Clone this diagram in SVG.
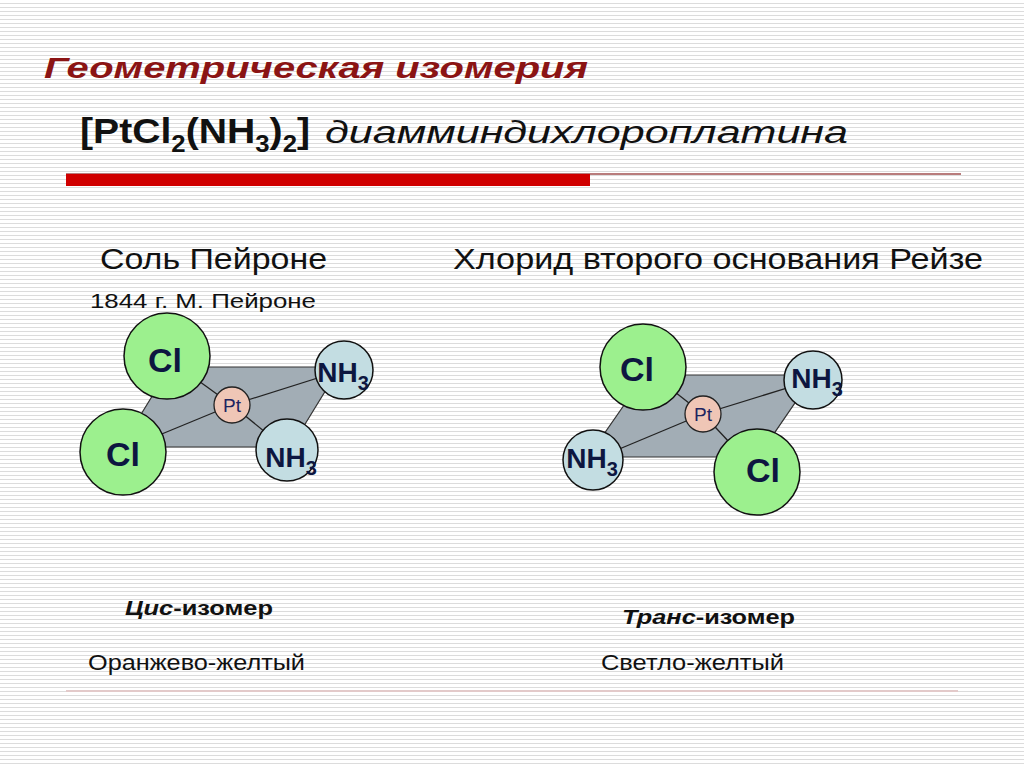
<svg xmlns="http://www.w3.org/2000/svg" width="1024" height="767" viewBox="0 0 1024 767">
<defs>
<pattern id="bg" width="8" height="4" patternUnits="userSpaceOnUse"><rect width="8" height="4" fill="#ffffff"/><rect y="3" width="8" height="1" fill="#dcdcdc"/></pattern>
</defs>
<style>
.plane{fill:#a2adb5;stroke:#333;stroke-width:1.2}
.bond{stroke:#222;stroke-width:1.3}
.cl{fill:#9cf08e;stroke:#111;stroke-width:1.5}
.nh{fill:#c3dde2;stroke:#111;stroke-width:1.5}
.pt{fill:#efc6b6;stroke:#222;stroke-width:1.3}
.lab{font-family:"Liberation Sans",Arial,sans-serif;font-weight:bold;fill:#0d1640;text-anchor:middle}
.ptl{font-family:"Liberation Sans",Arial,sans-serif;fill:#1d2460;font-size:19px;text-anchor:middle}
.t{font-family:"Liberation Sans",Arial,sans-serif;fill:#111}
</style>
<rect width="1024" height="767" fill="url(#bg)"/>
<text x="44" y="78" class="t" textLength="544" lengthAdjust="spacingAndGlyphs" style="font-size:30px;font-weight:bold;font-style:italic;fill:#8b1414">Геометрическая изомерия</text>
<text x="80" y="143" class="t" textLength="230" lengthAdjust="spacingAndGlyphs" style="font-size:35px;font-weight:bold">[PtCl<tspan font-size="23" dy="9">2</tspan><tspan dy="-9">(NH</tspan><tspan font-size="23" dy="9">3</tspan><tspan dy="-9">)</tspan><tspan font-size="23" dy="9">2</tspan><tspan dy="-9">]</tspan></text>
<text x="325" y="143" class="t" textLength="523" lengthAdjust="spacingAndGlyphs" style="font-size:31px;font-style:italic">диамминдихлороплатина</text>
<line x1="66" y1="174" x2="961" y2="174" stroke="#a05050" stroke-width="1.5"/>
<rect x="66" y="174" width="524" height="12" fill="#d00000"/>
<line x1="66" y1="691" x2="958" y2="691" stroke="#e3caca" stroke-width="2"/>
<text x="100" y="269" class="t" textLength="227" lengthAdjust="spacingAndGlyphs" style="font-size:29px">Соль Пейроне</text>
<text x="90" y="308" class="t" textLength="226" lengthAdjust="spacingAndGlyphs" style="font-size:21px">1844 г. М. Пейроне</text>
<text x="453" y="269" class="t" textLength="530" lengthAdjust="spacingAndGlyphs" style="font-size:29px">Хлорид второго основания Рейзе</text>
<text x="125" y="615" class="t" textLength="148" lengthAdjust="spacingAndGlyphs" style="font-size:21px;font-weight:bold"><tspan font-style="italic">Цис</tspan>-изомер</text>
<text x="88" y="670" class="t" textLength="217" lengthAdjust="spacingAndGlyphs" style="font-size:22px">Оранжево-желтый</text>
<text x="622" y="624" class="t" textLength="173" lengthAdjust="spacingAndGlyphs" style="font-size:21px;font-weight:bold"><tspan font-style="italic">Транс</tspan>-изомер</text>
<text x="601" y="670" class="t" textLength="183" lengthAdjust="spacingAndGlyphs" style="font-size:22px">Светло-желтый</text>
<g id="cis">
<polygon class="plane" points="170,367 340,367 291,447 121,447"/>
<g id="cis-bonds">
<line class="bond" x1="232" y1="405" x2="167" y2="358"/>
<line class="bond" x1="232" y1="405" x2="123" y2="450"/>
<line class="bond" x1="232" y1="405" x2="343" y2="370"/>
<line class="bond" x1="232" y1="405" x2="287" y2="450"/>
</g>
<g id="cis-pt"><circle class="pt" cx="232" cy="405" r="18"/><text class="ptl" x="232" y="412">Pt</text></g>
<g id="cis-cl1"><circle class="cl" cx="167" cy="356" r="43"/><text class="lab" x="165" y="372" font-size="34">Cl</text></g>
<g id="cis-cl2"><circle class="cl" cx="123" cy="452" r="43"/><text class="lab" x="123" y="466" font-size="34">Cl</text></g>
<g id="cis-nh1"><circle class="nh" cx="344" cy="370" r="29"/><text class="lab" x="343" y="382" font-size="28">NH<tspan font-size="20" dy="8">3</tspan></text></g>
<g id="cis-nh2"><circle class="nh" cx="287" cy="450" r="31"/><text class="lab" x="291" y="467" font-size="28">NH<tspan font-size="20" dy="8">3</tspan></text></g>
</g>
<g id="trans">
<polygon class="plane" points="645,375 814,375 758,457 588,457"/>
<g id="trans-bonds">
<line class="bond" x1="703" y1="414" x2="643" y2="367"/>
<line class="bond" x1="703" y1="414" x2="813" y2="380"/>
<line class="bond" x1="703" y1="414" x2="593" y2="460"/>
<line class="bond" x1="703" y1="414" x2="757" y2="472"/>
</g>
<g id="trans-pt"><circle class="pt" cx="703" cy="414" r="18"/><text class="ptl" x="703" y="421">Pt</text></g>
<g id="trans-cl1"><circle class="cl" cx="643" cy="367" r="43"/><text class="lab" x="637" y="381" font-size="34">Cl</text></g>
<g id="trans-nh1"><circle class="nh" cx="813" cy="380" r="29"/><text class="lab" x="817" y="388" font-size="28">NH<tspan font-size="20" dy="8">3</tspan></text></g>
<g id="trans-nh2"><circle class="nh" cx="593" cy="460" r="30"/><text class="lab" x="592" y="468" font-size="28">NH<tspan font-size="20" dy="8">3</tspan></text></g>
<g id="trans-cl2"><circle class="cl" cx="757" cy="472" r="43"/><text class="lab" x="763" y="482" font-size="34">Cl</text></g>
</g>
</svg>
